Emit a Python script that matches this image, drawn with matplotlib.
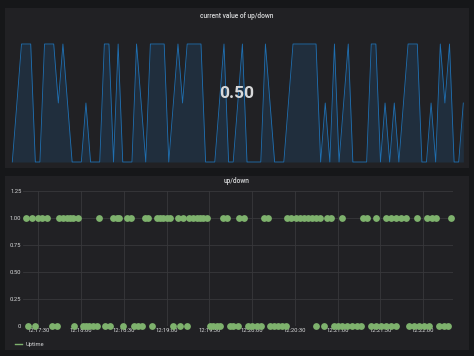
import matplotlib
matplotlib.use("Agg")
import matplotlib.pyplot as plt
from matplotlib.patches import Rectangle
from matplotlib.lines import Line2D

# ---------------- data ----------------
# singlestat sparkline (mean of up/down), one value per scrape
spark_values = [0, 0.5, 1, 1, 1, 0, 0, 1, 1, 1, 0.5, 1, 0.5, 0, 0, 0, 0.5, 0, 0, 0,
                1, 1, 0, 1, 0, 0, 0, 1, 0.5, 0, 1, 1, 1, 1, 0, 0.5, 1, 0.5, 1, 1,
                1, 1, 0, 0, 0, 0.5, 1, 0, 0, 0.5, 1, 0, 0, 0, 0, 1, 0.5, 0, 0, 0,
                0.5, 1, 1, 1, 1, 1, 1, 0, 0.5, 0, 1, 0, 0.5, 1, 0, 0, 0, 0, 1, 1,
                0, 0.5, 0, 0.5, 0, 0.5, 1, 1, 1, 0, 0, 0.5, 0, 1, 0.5, 1, 0, 0, 0.5]
current_value = "0.50"

# up/down graph: seconds after 12:17:00 of samples at 1 and at 0
up_times = [21.4, 25.4, 29.6, 32.4, 35.9, 44.7, 47.5, 49.9, 52.2, 54.6, 58.1, 72.6,
            82.6, 85.0, 86.8, 92.0, 94.8, 104.9, 107.2, 113.1, 115.4, 117.7, 120.1,
            122.4, 127.8, 131.8, 136.0, 138.3, 141.2, 143.5, 145.8, 148.2, 159.8,
            162.2, 170.9, 174.4, 188.4, 191.4, 204.8, 207.6, 210.7, 213.7, 216.5,
            219.3, 222.3, 224.7, 227.7, 232.8, 235.6, 242.9, 258.1, 260.9, 266.8,
            273.8, 277.3, 280.8, 284.3, 287.8, 296.0, 303.0, 306.5, 309.3, 319.4]
down_times = [23.0, 27.7, 39.4, 42.9, 55.1, 61.2, 63.5, 65.8, 68.2, 71.0, 76.8, 80.3,
              89.7, 97.4, 99.8, 102.6, 109.6, 124.7, 129.4, 134.1, 150.5, 152.8,
              155.2, 157.5, 164.5, 166.8, 170.4, 177.2, 180.2, 183.3, 186.1, 192.6,
              195.4, 198.2, 201.2, 203.6, 224.7, 230.5, 237.5, 240.3, 243.3, 246.9,
              250.4, 253.5, 256.3, 263.7, 266.8, 270.3, 273.8, 277.3, 280.8, 290.2,
              293.7, 297.2, 300.7, 304.2, 311.2, 314.7, 317.7]
x_ticks = [30, 60, 90, 120, 150, 180, 210, 240, 270, 300]
x_tick_labels = ["12:17:30", "12:18:00", "12:18:30", "12:19:00", "12:19:30",
                 "12:20:00", "12:20:30", "12:21:00", "12:21:30", "12:22:00"]
y_ticks = [0, 0.25, 0.5, 0.75, 1.0, 1.25]
y_tick_labels = ["0", "0.25", "0.50", "0.75", "1.00", "1.25"]
series_name = "Uptime"

# ---------------- style ----------------
W, H = 474, 356
plt.rcParams['font.family'] = ['Roboto', 'DejaVu Sans']
BG = "#161719"
PANEL = "#212124"
TEXT = "#d8d9da"
GRID = "#38383b"
GREEN = "#7eb26d"
BLUE = "#1f78c1"


def fx(x):
    return x / W


def fy(y):
    return 1 - y / H


def box(x0, y0, x1, y1):
    return [fx(x0), fy(y1), fx(x1) - fx(x0), fy(y0) - fy(y1)]


fig = plt.figure(figsize=(W / 100, H / 100), dpi=100)
fig.patch.set_facecolor(BG)

# panels
fig.patches.append(Rectangle((fx(5), fy(168)), fx(469) - fx(5), fy(8) - fy(168),
                             transform=fig.transFigure, facecolor=PANEL, edgecolor="none", zorder=-10))
fig.patches.append(Rectangle((fx(5), fy(350)), fx(469) - fx(5), fy(176) - fy(350),
                             transform=fig.transFigure, facecolor=PANEL, edgecolor="none", zorder=-10))

# ---------------- top singlestat ----------------
fig.text(fx(237), fy(15.5), "current value of up/down", color=TEXT, fontsize=4.8,
         ha="center", va="center", fontweight="medium")

ax1 = fig.add_axes(box(12.3, 44, 463.3, 162))
ax1.set_zorder(2)
ax1.set_facecolor("none")
xs = list(range(len(spark_values)))
ax1.fill_between(xs, spark_values, 0, color=BLUE, alpha=0.16, linewidth=0, clip_on=False)
ax1.plot(xs, spark_values, color=BLUE, linewidth=0.6, alpha=0.9, clip_on=False)
ax1.set_xlim(0, len(spark_values) - 1)
ax1.set_ylim(0, 1)
ax1.axis("off")

fig.text(fx(237), fy(93), current_value, color=TEXT, fontsize=12.5, fontweight="bold",
         ha="center", va="center", zorder=5)

# ---------------- bottom graph ----------------
fig.text(fx(237), fy(181), "up/down", color=TEXT, fontsize=4.8, ha="center", va="center",
         fontweight="medium")

ax2 = fig.add_axes(box(23, 190.7, 453, 325.7))
ax2.set_zorder(2)
ax2.set_facecolor("none")
ax2.set_xlim(19.3, 321)
ax2.set_ylim(0, 1.25)
for s in ax2.spines.values():
    s.set_visible(False)
ax2.set_xticks(x_ticks)
ax2.set_xticklabels(x_tick_labels)
ax2.set_yticks(y_ticks)
ax2.set_yticklabels(y_tick_labels)
ax2.tick_params(axis="both", length=0, labelsize=4.2, labelcolor=TEXT)
ax2.tick_params(axis="y", pad=1.2)
ax2.tick_params(axis="x", pad=2)
ax2.grid(True, color=GRID, linewidth=0.6)
ax2.set_axisbelow(True)
ax2.scatter(up_times, [1] * len(up_times), s=24, color=GREEN, linewidths=0, clip_on=False, zorder=3)
ax2.scatter(down_times, [0] * len(down_times), s=24, color=GREEN, linewidths=0, clip_on=False, zorder=3)

ax2.legend(handles=[Line2D([0], [0], color=GREEN, linewidth=1)], labels=[series_name],
           loc="center left", bbox_to_anchor=(fx(15), fy(344.3)), bbox_transform=fig.transFigure,
           frameon=False, fontsize=4.2, labelcolor=TEXT, handlelength=1.2, handletextpad=0.6,
           borderpad=0, borderaxespad=0)

fig.savefig("out.png", dpi=100, facecolor=BG)
